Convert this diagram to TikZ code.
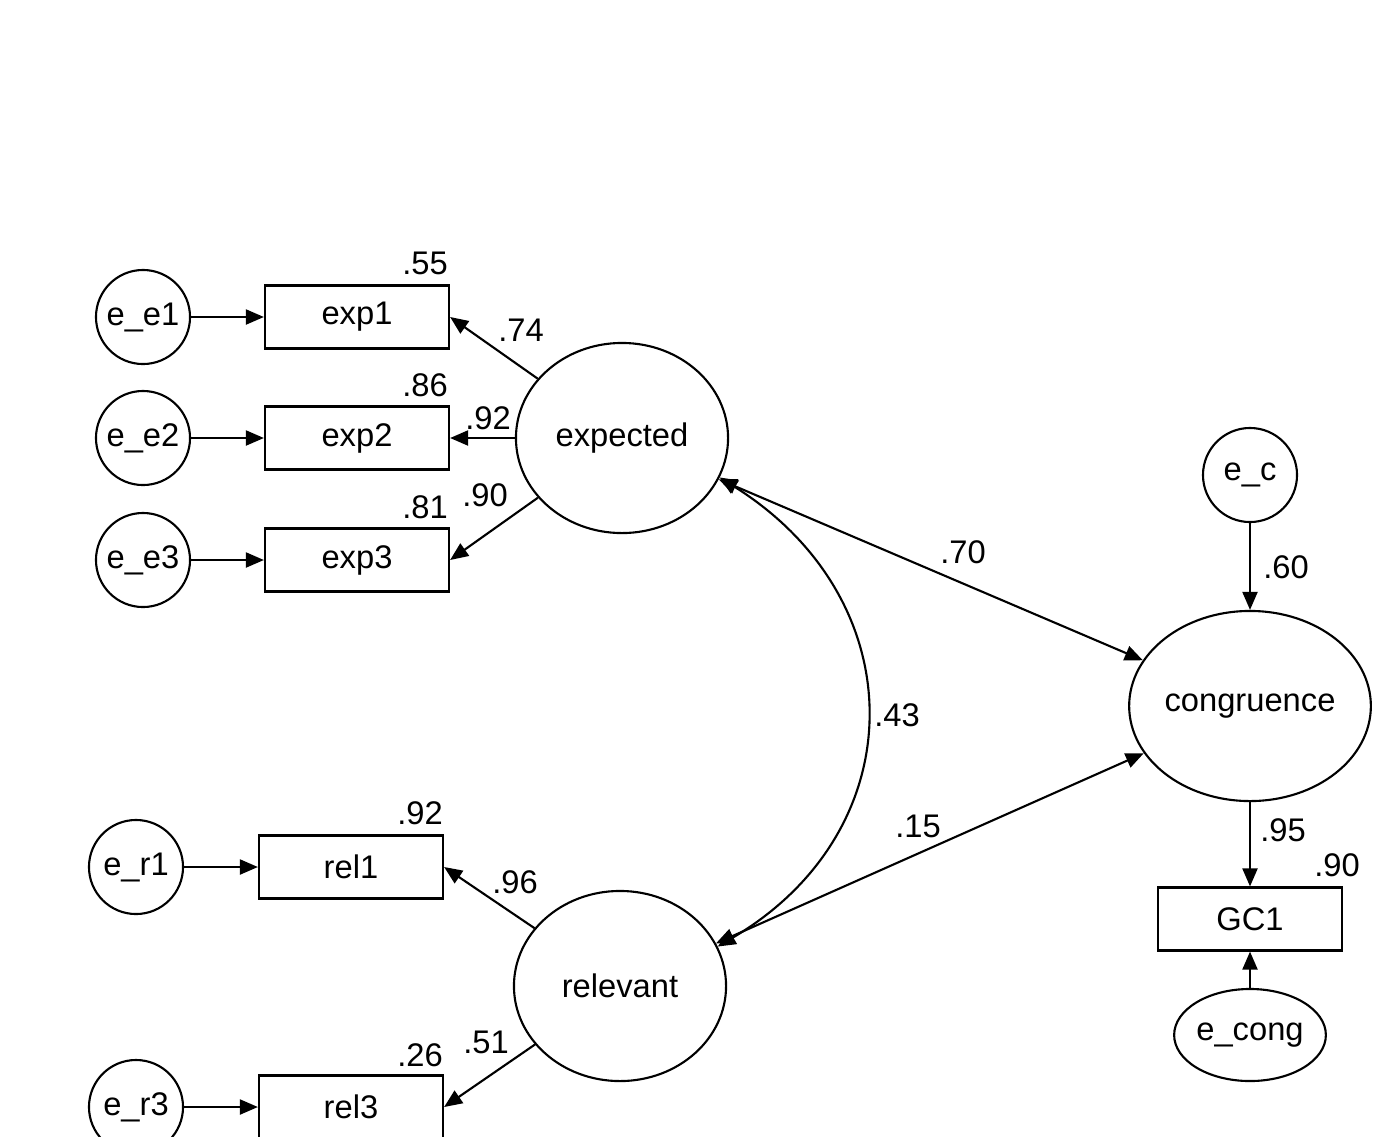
\documentclass[tikz,border=0pt]{standalone}
\usepackage{fontspec}
\setmainfont{Liberation Sans}
\usetikzlibrary{arrows.meta,shapes.geometric}
\tikzset{
  obs/.style={draw, rectangle, minimum width=1.84cm, minimum height=0.63cm, inner sep=0pt},
  err/.style={draw, circle, minimum size=0.94cm, inner sep=0pt},
  lat/.style={draw, ellipse, minimum width=2.12cm, minimum height=1.9cm, inner sep=0pt},
  path/.style={-{Triangle[length=0.18cm,width=0.15cm]}},
  cov/.style={{Triangle[length=0.18cm,width=0.15cm]}-{Triangle[length=0.18cm,width=0.15cm]}},
  est/.style={font=\fontsize{9.3pt}{11pt}\selectfont}
}
\begin{document}
\begin{tikzpicture}[x=0.01cm, y=-0.01cm, line width=0.6pt, every node/.style={font=\fontsize{9.3pt}{11pt}\selectfont}]
 \useasboundingbox (0,0) rectangle (1373,1136);
 % measurement part: expected
 \node[err] (ee1) at (143,317) {e\_e1};
 \node[err] (ee2) at (143,438) {e\_e2};
 \node[err] (ee3) at (143,560) {e\_e3};
 \node[obs] (exp1) at (357,317) {exp1};
 \node[obs] (exp2) at (357,438) {exp2};
 \node[obs] (exp3) at (357,560) {exp3};
 \node[lat] (expected) at (622,438) {expected};
 % measurement part: relevant
 \node[err] (er1) at (136,867) {e\_r1};
 \node[err] (er3) at (136,1107) {e\_r3};
 \node[obs] (rel1) at (351,867) {rel1};
 \node[obs] (rel3) at (351,1107) {rel3};
 \node[lat] (relevant) at (620,986) {relevant};
 % outcome
 \node[err] (ec) at (1250,475) {e\_c};
 \node[lat] (congruence) at (1250,706) {congruence};
 \node[obs] (GC1) at (1250,919) {GC1};
 \node[draw, ellipse, minimum width=1.44cm, minimum height=0.92cm, inner sep=0pt] (econg) at (1250,1035) {e\_cong};

 \draw[path] (ee1) -- (exp1);
 \draw[path] (ee2) -- (exp2);
 \draw[path] (ee3) -- (exp3);
 \draw[path] (er1) -- (rel1);
 \draw[path] (er3) -- (rel3);
 \draw[path] (expected) -- (exp1.east);
 \draw[path] (expected) -- (exp2.east);
 \draw[path] (expected) -- (exp3.east);
 \draw[path] (relevant) -- (rel1.east);
 \draw[path] (relevant) -- (rel3.east);
 \draw[cov] (expected) -- (congruence);
 \draw[cov] (relevant) -- (congruence);
 \draw[cov] (expected.-22) .. controls (915,600) and (915,830) .. (relevant.22);
 \draw[path] (ec) -- (congruence);
 \draw[path] (congruence) -- (GC1);
 \draw[path] (econg) -- (GC1);

 % estimates
 \node[est] (l1) at (425,263) {.55};
 \node[est] (l2) at (425,385) {.86};
 \node[est] (l3) at (425,507) {.81};
 \node[est] (l4) at (521,330) {.74};
 \node[est] (l5) at (488,418) {.92};
 \node[est] (l6) at (485,495) {.90};
 \node[est] (l7) at (963,552) {.70};
 \node[est] (l8) at (897,715) {.43};
 \node[est] (l9) at (918,826) {.15};
 \node[est] (l10) at (1286,567) {.60};
 \node[est] (l11) at (1283,830) {.95};
 \node[est] (l12) at (1337,865) {.90};
 \node[est] (l13) at (420,813) {.92};
 \node[est] (l14) at (515,882) {.96};
 \node[est] (l15) at (420,1055) {.26};
 \node[est] (l16) at (486,1042) {.51};
\end{tikzpicture}
\end{document}
